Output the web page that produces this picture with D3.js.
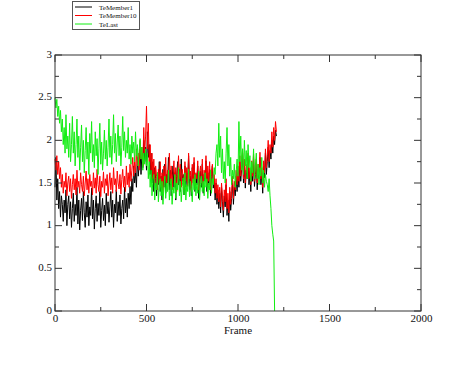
<!DOCTYPE html>
<html><head><meta charset="utf-8">
<script src="https://cdn.jsdelivr.net/npm/d3@7"></script>
<style>body{margin:0;background:#fff}svg{display:block}</style>
</head><body>
<script>
const seriesNames = ["TeMember1", "TeMember10", "TeLast"];
const seriesColors = ["#000000", "#ff0000", "#11ee11"];
const frameStep = 5;
const xTicks = [0, 500, 1000, 1500, 2000];
const xTickLabels = ["0", "500", "1000", "1500", "2000"];
const yTicks = [0, 0.5, 1, 1.5, 2, 2.5, 3];
const yTickLabels = ["0", "0.5", "1", "1.5", "2", "2.5", "3"];

const teMember1 = [
 1.45,1.80,1.30,1.55,1.20,1.40,1.10,1.35,1.25,1.05,1.30,1.15,1.42,1.00,1.25,1.35,1.08,1.28,0.98,1.20,
 1.38,1.05,1.25,1.12,1.45,1.02,1.30,0.95,1.18,1.32,1.06,1.40,1.15,0.98,1.28,1.10,1.36,1.00,1.22,1.12,
 1.44,1.08,1.30,0.96,1.20,1.35,1.05,1.26,1.12,1.40,0.98,1.18,1.32,1.06,1.24,1.00,1.38,1.14,1.28,1.04,
 1.22,1.40,1.10,1.30,0.98,1.25,1.15,1.42,1.05,1.28,1.12,1.36,1.02,1.20,1.30,1.08,1.45,1.15,1.32,1.10,
 1.38,1.20,1.46,1.25,1.55,1.40,1.70,1.50,1.62,1.45,1.80,1.58,1.72,1.90,1.60,1.85,1.68,2.00,1.75,1.92,
 1.65,2.10,1.80,1.95,1.60,1.85,1.50,1.75,1.40,1.68,1.55,1.35,1.62,1.48,1.75,1.40,1.58,1.30,1.66,1.45,
 1.72,1.38,1.60,1.50,1.80,1.42,1.65,1.35,1.55,1.70,1.45,1.62,1.30,1.58,1.75,1.48,1.66,1.40,1.78,1.52,
 1.60,1.36,1.70,1.45,1.62,1.50,1.82,1.42,1.58,1.35,1.68,1.55,1.74,1.40,1.60,1.48,1.70,1.32,1.56,1.64,
 1.45,1.72,1.38,1.60,1.52,1.76,1.40,1.62,1.48,1.66,1.35,1.58,1.70,1.44,1.55,1.30,1.50,1.25,1.42,1.20,
 1.38,1.15,1.45,1.28,1.10,1.35,1.22,1.48,1.12,1.30,1.05,1.40,1.18,1.32,1.50,1.25,1.45,1.35,1.58,1.40,
 1.62,1.45,1.75,1.52,1.68,1.85,1.50,1.72,1.44,1.65,1.55,1.80,1.48,1.62,1.40,1.70,1.52,1.78,1.46,1.60,
 1.72,1.42,1.66,1.55,1.80,1.48,1.62,1.38,1.70,1.56,1.85,1.60,1.75,1.92,1.68,1.88,1.78,2.00,1.85,2.05,
 1.95,2.12,2.05
];
const teMember10 = [
 1.78,1.65,1.82,1.60,1.75,1.55,1.68,1.45,1.60,1.38,1.52,1.45,1.62,1.35,1.50,1.58,1.40,1.55,1.32,1.48,
 1.60,1.42,1.55,1.36,1.65,1.45,1.52,1.38,1.62,1.48,1.40,1.58,1.35,1.50,1.64,1.42,1.55,1.38,1.60,1.46,
 1.52,1.36,1.62,1.44,1.56,1.38,1.66,1.48,1.40,1.58,1.34,1.52,1.45,1.63,1.38,1.55,1.47,1.60,1.35,1.50,
 1.62,1.42,1.56,1.38,1.68,1.48,1.55,1.40,1.64,1.50,1.43,1.60,1.37,1.54,1.66,1.45,1.58,1.40,1.70,1.48,
 1.62,1.45,1.72,1.52,1.65,1.80,1.58,1.75,1.62,1.90,1.70,1.85,1.65,2.00,1.78,1.92,1.70,2.15,1.85,2.05,
 2.40,1.90,2.20,1.75,1.95,1.65,1.85,1.55,1.78,1.48,1.70,1.58,1.42,1.66,1.50,1.75,1.45,1.62,1.38,1.70,
 1.52,1.80,1.45,1.65,1.58,1.85,1.50,1.70,1.42,1.62,1.76,1.48,1.68,1.40,1.60,1.82,1.55,1.72,1.45,1.66,
 1.58,1.42,1.75,1.52,1.68,1.46,1.85,1.55,1.64,1.40,1.72,1.50,1.80,1.48,1.62,1.55,1.76,1.42,1.60,1.70,
 1.50,1.78,1.45,1.65,1.56,1.82,1.48,1.70,1.52,1.75,1.42,1.62,1.72,1.50,1.60,1.38,1.55,1.32,1.48,1.28,
 1.45,1.22,1.50,1.35,1.18,1.42,1.28,1.55,1.20,1.38,1.15,1.45,1.25,1.40,1.58,1.32,1.52,1.42,1.65,1.48,
 1.70,1.52,1.82,1.58,1.75,1.90,1.55,1.78,1.50,1.72,1.62,1.85,1.55,1.68,1.48,1.76,1.58,1.84,1.52,1.66,
 1.78,1.50,1.72,1.60,1.86,1.55,1.68,1.45,1.76,1.62,1.90,1.68,1.82,2.00,1.75,1.95,1.85,2.10,1.92,2.15,
 2.00,2.22,2.10
];
const teLast = [
 2.50,2.38,2.48,2.28,2.40,2.20,2.35,2.10,2.25,1.95,2.15,1.85,2.30,1.90,2.05,1.80,2.20,1.75,1.95,2.28,
 1.85,2.10,1.70,1.95,2.25,1.80,2.05,1.65,1.92,2.18,1.75,2.00,1.62,1.88,2.15,1.78,1.98,1.60,2.08,1.85,
 2.22,1.75,1.95,1.68,2.10,1.82,2.02,1.60,1.90,2.20,1.72,1.98,1.65,1.85,2.12,1.78,2.00,1.70,1.92,2.25,
 1.80,2.05,1.72,1.95,2.30,1.85,2.08,1.75,1.98,2.18,1.82,2.05,1.70,1.92,2.28,1.88,2.10,1.80,2.00,1.85,
 2.15,1.78,1.95,1.72,2.05,1.85,1.98,1.75,2.10,1.82,1.95,1.70,1.88,2.02,1.78,1.92,1.65,1.85,1.72,1.90,
 1.70,1.85,1.55,1.75,1.45,1.65,1.35,1.55,1.60,1.30,1.50,1.42,1.62,1.28,1.48,1.55,1.35,1.52,1.25,1.45,
 1.58,1.32,1.50,1.40,1.65,1.30,1.48,1.55,1.25,1.45,1.38,1.60,1.32,1.50,1.42,1.68,1.35,1.52,1.28,1.46,
 1.56,1.36,1.62,1.30,1.48,1.40,1.66,1.34,1.52,1.45,1.28,1.55,1.42,1.60,1.35,1.50,1.38,1.64,1.30,1.48,
 1.58,1.40,1.52,1.35,1.62,1.45,1.55,1.32,1.50,1.42,1.65,1.38,1.55,1.48,1.68,1.60,1.85,1.95,1.70,2.20,
 1.80,2.05,1.62,1.90,1.55,1.75,1.50,1.85,2.15,1.70,1.95,1.58,1.80,1.48,1.65,1.55,1.72,1.45,1.62,1.78,
 1.58,2.22,1.75,2.05,1.65,1.90,1.60,2.00,1.70,1.88,1.55,1.95,1.68,1.82,1.52,1.75,1.62,1.90,1.55,1.70,
 1.85,1.55,1.72,1.48,1.68,1.58,1.80,1.50,1.65,1.45,1.60,1.52,1.48,1.40,1.55,1.35,1.20,1.00,0.90,0.82,
 0.00
];

const W = 474, H = 365;
const m = {left: 55, right: 421, top: 55, bottom: 311};
const svg = d3.select("body").append("svg").attr("width", W).attr("height", H);
const x = d3.scaleLinear().domain([0, 2000]).range([m.left, m.right]);
const y = d3.scaleLinear().domain([0, 3]).range([m.bottom, m.top]);

const line = d3.line().x((d, i) => x(i * frameStep)).y(d => y(d));
const plot = svg.append("g");
[teMember1, teMember10, teLast].forEach((s, k) => {
  plot.append("path").datum(s).attr("d", line).attr("fill", "none")
    .attr("stroke", seriesColors[k]).attr("stroke-width", 1);
});

const font = "'Liberation Serif', 'DejaVu Serif', serif";
const minorX = d3.range(0, 2001, 250);
const minorY = d3.range(0, 3.01, 0.25);
const axisCol = "#333";
const bx = d3.axisBottom(x).tickValues(xTicks).tickFormat((d, i) => xTickLabels[i]).tickSize(0).tickPadding(3);
const gb = svg.append("g").attr("transform", `translate(0,${m.bottom})`).call(bx);
gb.attr("font-family", null).attr("font-size", null);
gb.select(".domain").remove();
gb.selectAll("text").style("font-family", font).style("font-size", "11px").attr("fill", "#111");
const ly = d3.axisLeft(y).tickValues(yTicks).tickFormat((d, i) => yTickLabels[i]).tickSize(0).tickPadding(3);
const gl = svg.append("g").attr("transform", `translate(${m.left},0)`).call(ly);
gl.attr("font-family", null).attr("font-size", null);
gl.select(".domain").remove();
gl.selectAll("text").style("font-family", font).style("font-size", "11px").attr("fill", "#111").attr("dy", "0.2em");

const tk = svg.append("g").attr("stroke", axisCol).attr("stroke-width", 1);
minorX.forEach(v => {
  const len = xTicks.includes(v) ? 7 : 4;
  tk.append("line").attr("x1", x(v)).attr("x2", x(v)).attr("y1", m.bottom).attr("y2", m.bottom - len);
  tk.append("line").attr("x1", x(v)).attr("x2", x(v)).attr("y1", m.top).attr("y2", m.top + len);
});
minorY.forEach(v => {
  const major = yTicks.some(t => Math.abs(t - v) < 1e-6);
  const len = major ? 7 : 4;
  tk.append("line").attr("y1", y(v)).attr("y2", y(v)).attr("x1", m.left).attr("x2", m.left + len);
  tk.append("line").attr("y1", y(v)).attr("y2", y(v)).attr("x1", m.right).attr("x2", m.right - len);
});
svg.append("rect").attr("x", m.left).attr("y", m.top).attr("width", m.right - m.left)
  .attr("height", m.bottom - m.top).attr("fill", "none").attr("stroke", axisCol).attr("stroke-width", 1);

svg.append("text").attr("x", (m.left + m.right) / 2).attr("y", 334).attr("text-anchor", "middle")
  .style("font-family", font).style("font-size", "11px").attr("fill", "#111").text("Frame");

const lg = svg.append("g");
lg.append("rect").attr("x", 72.5).attr("y", 1.5).attr("width", 67).attr("height", 28)
  .attr("fill", "#fff").attr("stroke", "#555").attr("stroke-width", 1);
seriesNames.forEach((n, i) => {
  const yy = 7 + i * 8.5;
  lg.append("line").attr("x1", 75).attr("x2", 92).attr("y1", yy).attr("y2", yy)
    .attr("stroke", seriesColors[i]).attr("stroke-width", 1);
  lg.append("text").attr("x", 99).attr("y", yy + 2.5).style("font-family", font)
    .style("font-size", "7px").attr("fill", "#111").text(n);
});
</script>
</body></html>
